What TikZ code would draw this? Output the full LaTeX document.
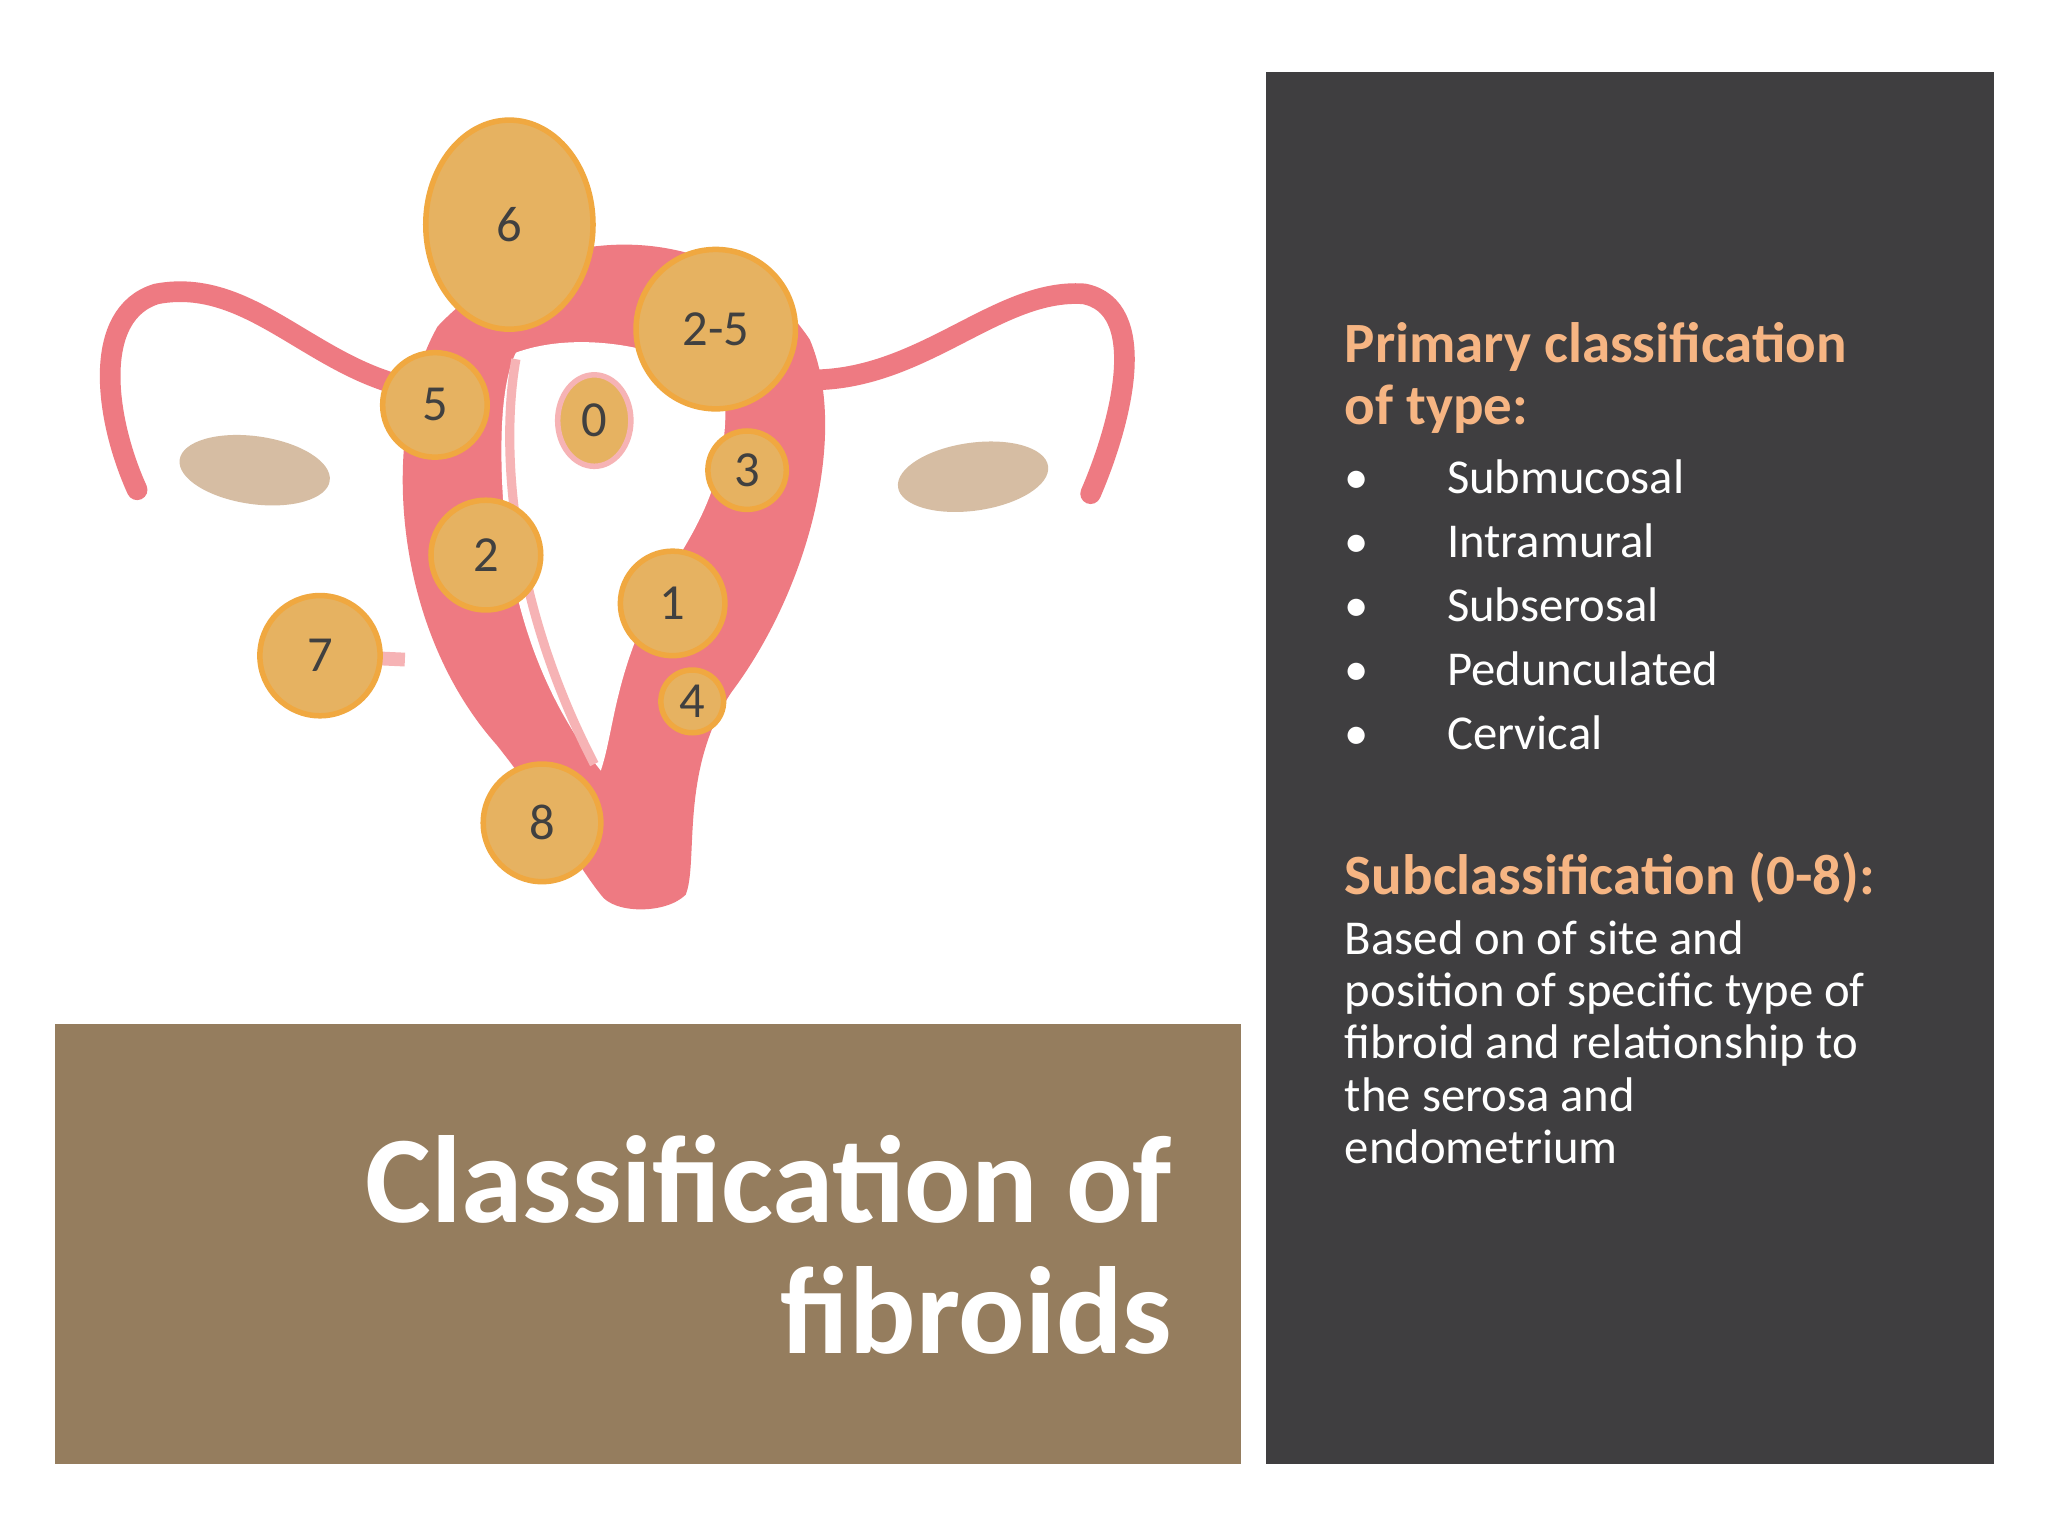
\documentclass[tikz,border=0pt]{standalone}
\usepackage{fontspec}
\setmainfont{Carlito}
\usetikzlibrary{shapes.geometric}
\begin{document}
\begin{tikzpicture}[x=0.01cm,y=-0.01cm,
 fib/.style={circle,fill=fibc,draw=fibd,line width=1.2pt,inner sep=0pt,font=\fontsize{11}{11}\selectfont,text=black!75},
 head/.style={anchor=west,inner sep=0pt,text=headc,font=\bfseries\fontsize{12.4}{15}\selectfont},
 bul/.style={anchor=west,inner sep=0pt,text=white,font=\fontsize{10.6}{13}\selectfont},
 body/.style={anchor=north west,inner sep=0pt,text=white,align=left,font=\fontsize{10.6}{11.4}\selectfont}]
\definecolor{darkp}{HTML}{3F3E40}
\definecolor{brownp}{HTML}{957D5E}
\definecolor{headc}{HTML}{F6B583}
\definecolor{pinkc}{HTML}{EE7A82}
\definecolor{pinkl}{HTML}{F6B3B5}
\definecolor{fibc}{HTML}{E6B261}
\definecolor{fibd}{HTML}{F0A840}
\definecolor{ovc}{HTML}{D6BDA3}
\useasboundingbox (0,0) rectangle (1568,1176);
\fill[white] (0,0) rectangle (1568,1176);
% panels
\fill[darkp] (969,55) rectangle (1527,1121);
\fill[brownp] (42,784) rectangle (950,1121);
\node[anchor=east,inner sep=0pt,text=white,align=right,font=\bfseries\fontsize{27}{28.5}\selectfont] (title) at (898,953) {Classification of\\fibroids};
% right text
\node[head] (h1) at (1029,266) {Primary classification};
\node[head] (h2) at (1029,313) {of type:};
\foreach \t [count=\i] in {Submucosal,Intramural,Subserosal,Pedunculated,Cervical}{
 \node[bul] (b\i) at (1029,316+49*\i) {•\hspace{1.6em}\t};}
\node[head] (h3) at (1029,672) {Subclassification (0-8):};
\node[body] (sb) at (1029,704) {Based on of site and\\position of specific type of\\fibroid and relationship to\\the serosa and\\endometrium};
% ovaries
\fill[ovc,rotate around={-8:(195,360)}] (195,360) ellipse (58 and 26);
\fill[ovc,rotate around={8:(745,365)}] (745,365) ellipse (58 and 26);
% tubes
\draw[pinkc,line width=4.5pt,line cap=round] (345,300) .. controls (250,300) and (200,210) .. (120,225) .. controls (70,240) and (80,320) .. (105,375);
\draw[pinkc,line width=4.5pt,line cap=round] (605,290) .. controls (700,300) and (760,220) .. (830,225) .. controls (880,235) and (860,320) .. (835,378);
% uterus body
\fill[pinkc] (335,250) .. controls (420,160) and (560,170) .. (620,260)
 .. controls (650,330) and (620,450) .. (560,530)
 .. controls (520,590) and (535,660) .. (525,685)
 .. controls (510,700) and (470,700) .. (460,685)
 .. controls (440,660) and (420,620) .. (380,570)
 .. controls (300,480) and (290,330) .. (335,250) -- cycle;
\fill[white] (395,270) .. controls (450,250) and (530,270) .. (555,300)
 .. controls (560,380) and (520,420) .. (500,460)
 .. controls (470,520) and (470,560) .. (460,590)
 .. controls (420,540) and (390,470) .. (385,380)
 .. controls (382,330) and (385,290) .. (395,270) -- cycle;
\draw[pinkl,line width=2pt] (395,275) .. controls (385,330) and (385,450) .. (455,585);
\draw[pinkl,line width=3pt] (245,502) -- (310,505);
% fibroids
\node[fib,ellipse,minimum width=12.8mm,minimum height=16mm] (f6) at (390,172) {6};
\node[fib,minimum size=12.2mm] (f25) at (548,252) {2-5};
\node[fib,minimum size=8mm] (f5) at (333,310) {5};
\node[fib,ellipse,minimum width=5.6mm,minimum height=7mm,draw=pinkl] (f0) at (455,322) {0};
\node[fib,minimum size=6mm] (f3) at (572,360) {3};
\node[fib,minimum size=8.4mm] (f2) at (372,425) {2};
\node[fib,minimum size=8mm] (f1) at (515,462) {1};
\node[fib,minimum size=4.8mm] (f4) at (530,537) {4};
\node[fib,minimum size=9.2mm] (f7) at (245,502) {7};
\node[fib,minimum size=9mm] (f8) at (415,630) {8};
\end{tikzpicture}
\end{document}
